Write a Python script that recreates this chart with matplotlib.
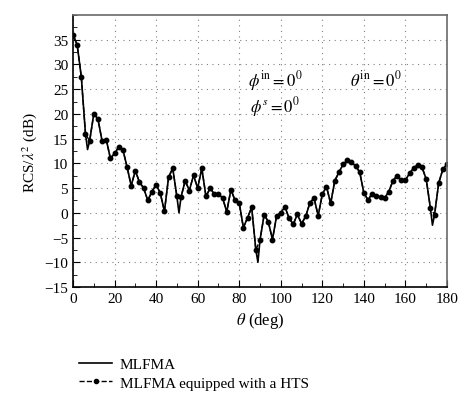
import matplotlib
matplotlib.use("Agg")
import matplotlib.pyplot as plt
from matplotlib.ticker import MultipleLocator
from matplotlib.lines import Line2D

plt.rcParams['font.family'] = ['Liberation Serif', 'DejaVu Serif']
plt.rcParams['mathtext.fontset'] = 'stix'

theta = list(range(0, 181, 2))
rcs_hts = [36, 34, 27.5, 16, 14.5, 20, 19, 14.5, 14.8, 11, 12, 13.3, 12.8, 9.3, 5.5, 8.5,
           6.2, 5, 2.5, 4.3, 5.7, 4, 0.3, 7.2, 9, 3.3, 3.2, 6.5, 4.5, 7.6, 5, 9, 3.3, 5,
           3.8, 3.8, 3, 0.2, 4.7, 2.5, 2, -3, -1, 1.1, -7.5, -5.5, -0.4, -1.8, -5.4, -0.6,
           0, 1.2, -1.1, -2.3, -0.3, -2.2, -0.7, 2, 3, -0.6, 3.8, 5.3, 1.9, 6.5, 8.2, 9.8,
           10.6, 10.2, 9.5, 8.2, 4, 2.6, 3.9, 3.4, 3.2, 3, 4.3, 6.5, 7.5, 6.6, 6.6, 8, 9.1,
           9.7, 9.2, 6.8, 1, -0.4, 6, 8.8, 9.8]
# extra dips resolved by the solid MLFMA curve
dip_theta = [7, 51, 89, 173]
dip_rcs = [12.8, 0.0, -10.0, -2.5]

pts = sorted(list(zip(theta, rcs_hts)) + list(zip(dip_theta, dip_rcs)))
th_m = [p[0] for p in pts]
rcs_m = [p[1] for p in pts]

fig = plt.figure(figsize=(4.74, 4.02), dpi=100)
ax = fig.add_axes([73/474, 1-288/402, (447-73)/474, (288-16)/402])
ax.plot(th_m, rcs_m, color='black', lw=1.2)
ax.plot(theta, rcs_hts, color='black', lw=1.0, ls='--', marker='o', ms=3.2)

ax.set_xlim(0, 180)
ax.set_ylim(-15, 40)
ax.xaxis.set_major_locator(MultipleLocator(20))
ax.xaxis.set_minor_locator(MultipleLocator(10))
ax.set_yticks(list(range(-15, 36, 5)))
ax.yaxis.set_minor_locator(MultipleLocator(2.5))
ax.tick_params(which='both', direction='in', labelsize=11)
ax.tick_params(which='major', length=5)
ax.tick_params(which='minor', length=3)
ax.grid(True, which='major', ls=(0, (1, 4)), color='gray', lw=0.8)
for s in ax.spines.values():
    s.set_linewidth(1.2)
ax.spines['right'].set_color('dimgray')
ax.spines['top'].set_color('dimgray')

ax.set_xlabel(r'$\theta$ (deg)', fontsize=12)
ax.set_ylabel(r'RCS/$\lambda^2$ (dB)', fontsize=11)

ax.text(0.54, 0.74, r'$\phi^{\rm in}=0^0$', transform=ax.transAxes, fontsize=12, ha='center')
ax.text(0.81, 0.74, r'$\theta^{\rm in}=0^0$', transform=ax.transAxes, fontsize=12, ha='center')
ax.text(0.54, 0.645, r'$\phi^{s}=0^0$', transform=ax.transAxes, fontsize=12, ha='center')

handles = [Line2D([], [], color='black', lw=1.2),
           Line2D([], [], color='black', lw=1.0, ls='--', marker='o', ms=3)]
fig.legend(handles, ['MLFMA', 'MLFMA equipped with a HTS'], loc='upper left',
           bbox_to_anchor=(65/474, 1-345/402), frameon=False, fontsize=11,
           handlelength=2.2, labelspacing=0.3, handletextpad=0.5)

fig.savefig('out.png', dpi=100)
